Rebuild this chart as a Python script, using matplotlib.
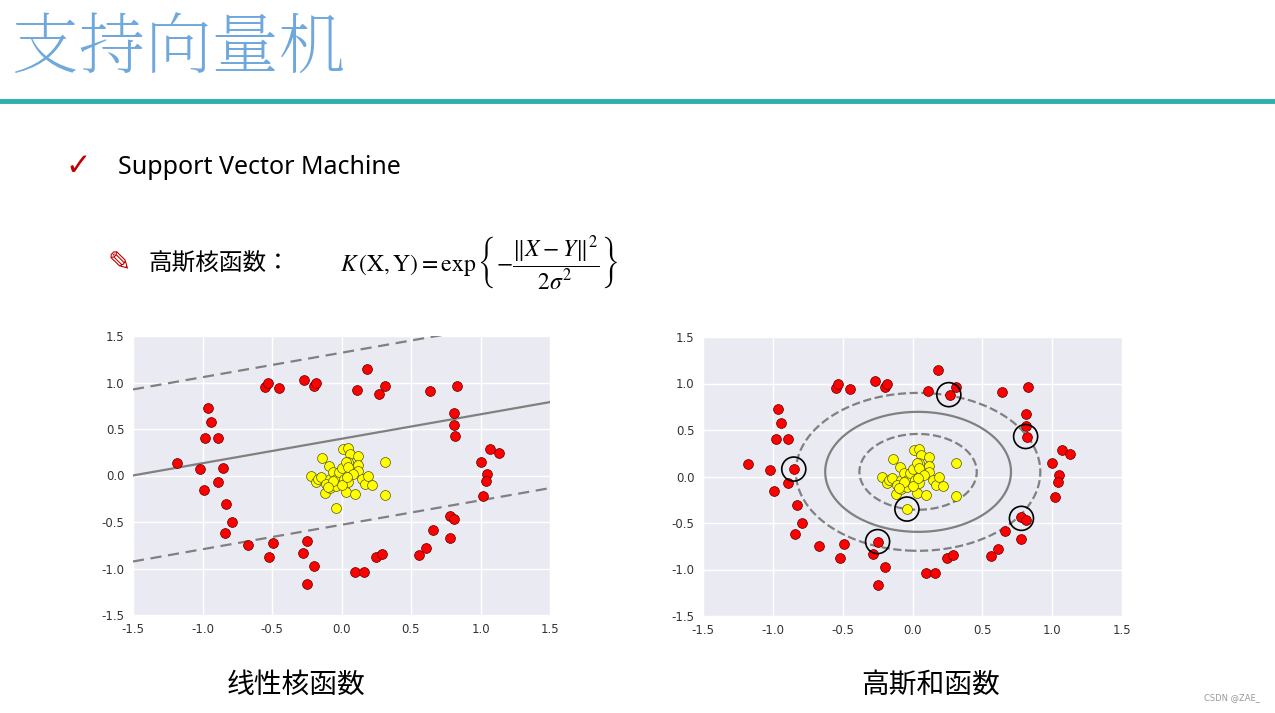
import numpy as np
import matplotlib
matplotlib.use("Agg")
import matplotlib.pyplot as plt
from matplotlib.lines import Line2D
from matplotlib import font_manager as fm

cjk_files = [f for f in fm.findSystemFonts() if "cjk" in f.lower()]
def pick(prefs):
    def score(f):
        n = f.lower()
        s = 0
        if "bold" in n or "black" in n or "heavy" in n or "medium" in n: s += 10
        for i, p in enumerate(prefs):
            if p in n: s -= (len(prefs) - i)
        return (s, f)
    return sorted(cjk_files, key=score)[0] if cjk_files else None
body_file = pick(["sans", "regular", "sc"])
title_file = pick(["serif", "light", "regular", "sc"])
def CJK(size, fname=None):
    fname = fname or body_file
    if fname:
        return fm.FontProperties(fname=fname, size=size, weight="normal")
    return fm.FontProperties(family=["Noto Sans CJK SC"], size=size)

red_x = [-1.18,-1.02,-0.96,-0.94,-0.98,-0.89,-0.85,-0.89,-0.99,-0.83,-0.79,-0.84,-0.67,-0.52,-0.49,
         -0.55,-0.53,-0.45,-0.27,-0.20,-0.18,-0.25,-0.28,-0.20,-0.25,0.11,0.18,0.27,0.31,0.10,0.16,
         0.25,0.29,0.56,0.61,0.66,0.64,0.83,0.81,0.81,0.82,0.78,0.81,0.78,1.00,1.07,1.13,1.05,1.04,1.02]
red_y = [0.13,0.07,0.73,0.57,0.40,0.40,0.08,-0.07,-0.16,-0.31,-0.50,-0.62,-0.75,-0.88,-0.73,
         0.95,0.99,0.94,1.03,0.96,0.99,-0.70,-0.83,-0.97,-1.17,0.92,1.14,0.88,0.96,-1.04,-1.04,
         -0.88,-0.84,-0.85,-0.78,-0.59,0.91,0.96,0.67,0.54,0.43,-0.44,-0.47,-0.67,0.14,0.28,0.24,0.02,-0.06,-0.22]
yel_x = [-0.14,-0.22,-0.18,-0.17,-0.15,-0.12,-0.09,-0.08,-0.08,-0.06,-0.04,-0.04,-0.04,-0.02,0.00,
         0.01,0.05,0.06,0.05,0.03,0.02,0.05,0.03,0.10,0.12,0.12,0.12,0.15,0.17,0.19,0.22,0.31,0.31,
         0.05,0.00,-0.11,-0.06,0.08,-0.10,0.04]
yel_y = [0.19,-0.01,-0.07,-0.04,-0.02,-0.19,0.10,-0.04,-0.13,0.04,-0.35,-0.04,-0.11,0.04,0.08,
         0.28,0.30,0.23,0.15,0.14,-0.04,-0.07,-0.18,-0.20,0.21,0.11,0.05,-0.04,-0.09,0.00,-0.10,0.15,-0.21,
         0.09,-0.10,-0.09,-0.06,0.02,-0.12,-0.02]
lin_slope, lin_intercept, lin_margin = 0.263, 0.395, 0.925
rbf_center = (0.04, 0.05)
rbf_scale = (1.0, 0.97)
rbf_levels = [0.42, 0.665, 0.875]
sv_x = [0.26, 0.81, -0.85, 0.78, -0.25, -0.04]
sv_y = [0.88, 0.43, 0.08, -0.45, -0.70, -0.35]
ticks = [-1.5, -1.0, -0.5, 0.0, 0.5, 1.0, 1.5]

fig = plt.figure(figsize=(12.75, 7.13), dpi=100)
fig.patch.set_facecolor("white")
W, H = 1275, 713

def ax_at(x0, x1, y0, y1):
    return fig.add_axes([x0/W, 1-y1/H, (x1-x0)/W, (y1-y0)/H])

def style(ax):
    ax.set_facecolor("#eaeaf2")
    ax.set_xlim(-1.5, 1.5); ax.set_ylim(-1.5, 1.5)
    ax.set_xticks(ticks); ax.set_yticks(ticks)
    ax.set_xticklabels([f"{t:.1f}" for t in ticks]); ax.set_yticklabels([f"{t:.1f}" for t in ticks])
    ax.grid(True, color="white", lw=1)
    ax.set_axisbelow(True)
    for s in ax.spines.values(): s.set_visible(False)
    ax.tick_params(length=0, labelsize=8.5, colors="#333333", pad=6)

def pts(ax):
    ax.scatter(red_x, red_y, s=50, c="red", edgecolors="#550000", linewidths=0.5, zorder=3)
    ax.scatter(yel_x, yel_y, s=50, c="yellow", edgecolors="#555500", linewidths=0.5, zorder=3)

ax1 = ax_at(133, 550, 336, 615)
style(ax1); pts(ax1)
xs = np.array([-1.5, 1.5])
ax1.plot(xs, lin_slope*xs + lin_intercept, color="gray", lw=1.6, zorder=2)
for s in (1, -1):
    ax1.plot(xs, lin_slope*xs + lin_intercept + s*lin_margin, color="gray", lw=1.6, ls=(0, (5, 3)), zorder=2)

ax2 = ax_at(703, 1122, 337, 616)
style(ax2); pts(ax2)
gx, gy = np.meshgrid(np.linspace(-1.5, 1.5, 300), np.linspace(-1.5, 1.5, 300))
r = np.hypot((gx-rbf_center[0])/rbf_scale[0], (gy-rbf_center[1])/rbf_scale[1])
ax2.contour(gx, gy, r, levels=rbf_levels, colors="gray", linewidths=1.6,
            linestyles=["--", "-", "--"], zorder=2)
ax2.scatter(sv_x, sv_y, s=300, facecolors="none", edgecolors="black", linewidths=1.2, zorder=4)

fig.text(12/W, 1-50/H, "支持向量机", fontproperties=CJK(48, title_file), color="#6fa8dc", va="center")
fig.add_artist(Line2D([0, 1], [1-101/H]*2, color="#2bb0b0", lw=3.5))
fig.text(65/W, 1-167/H, "✓", fontsize=22, color="#c00000", va="center", family="DejaVu Sans")
fig.text(118/W, 1-167/H, "Support Vector Machine", fontsize=18, family="Noto Sans", va="center")
fig.text(108/W, 1-263/H, "✎", fontsize=20, color="#c00000", va="center", family="DejaVu Sans")
fig.text(148/W, 1-263/H, "高斯核函数：", fontproperties=CJK(17), va="center")
fig.text(340/W, 1-263/H, r"$K\,(\mathrm{X,Y}) = \exp\left\{-\dfrac{\|X-Y\|^2}{2\sigma^2}\right\}$",
         fontsize=17, va="center", math_fontfamily="stix")
fig.text(296/W, 1-685/H, "线性核函数", fontproperties=CJK(20), ha="center", va="center")
fig.text(931/W, 1-685/H, "高斯和函数", fontproperties=CJK(20), ha="center", va="center")
fig.text(1260/W, 1-698/H, "CSDN @ZAE_", fontsize=6, color="#999999", ha="right", va="center")

fig.savefig("out.png", dpi=100)
